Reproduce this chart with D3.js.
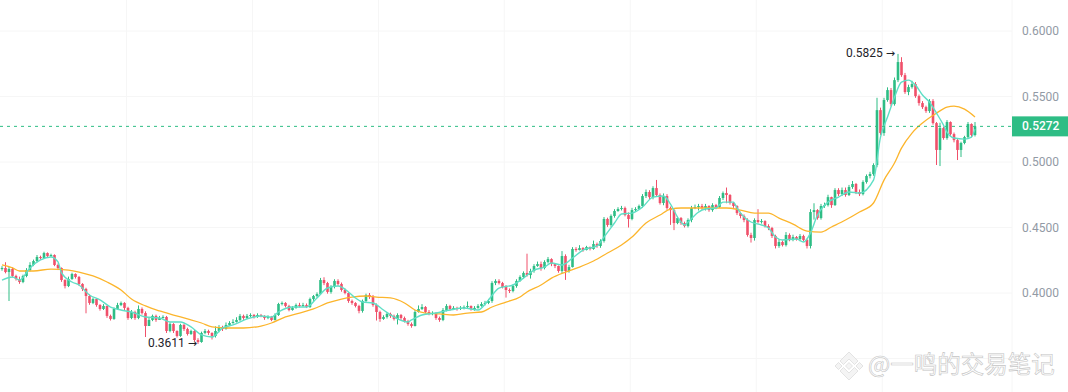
<!DOCTYPE html>
<html>
<head>
<meta charset="utf-8">
<script src="https://cdn.jsdelivr.net/npm/d3@7"></script>
<style>
    html, body { margin: 0; padding: 0; background: #fff; overflow: hidden; }
    svg { display: block; font-family: Roboto, Arial, sans-serif; }
</style>
</head>
<body>
<div id="chart"></div>
<script>
// daily candles, open of each one is the close before it
const firstOpen = .4183;
const closes = [
    .4191,.4160,.4183,.4130,.4107,.4084,.4130,.4175,.4214,.4244,
    .4275,.4267,.4305,.4282,.4290,.4214,.4191,.4099,.4053,.4107,
    .4145,.4122,.4069,.4031,.3977,.3924,.3954,.3908,.3878,.3901,
    .3825,.3802,.3878,.3908,.3924,.3886,.3809,.3855,.3809,.3878,
    .3847,.3748,.3794,.3825,.3794,.3809,.3817,.3710,.3763,.3710,
    .3672,.3756,.3725,.3687,.3710,.3641,.3626,.3695,.3710,.3695,
    .3672,.3710,.3740,.3725,.3756,.3771,.3779,.3794,.3825,.3809,
    .3825,.3832,.3817,.3832,.3825,.3809,.3817,.3794,.3832,.3916,
    .3924,.3901,.3870,.3886,.3908,.3901,.3908,.3893,.3954,.3977,
    .3992,.4099,.4076,.4008,.4046,.4092,.4069,.4023,.4000,.3939,
    .3924,.3901,.3863,.3939,.3985,.3969,.3908,.3855,.3802,.3817,
    .3840,.3825,.3802,.3832,.3809,.3786,.3763,.3748,.3855,.3878,
    .3893,.3855,.3840,.3847,.3809,.3794,.3870,.3901,.3878,.3886,
    .3878,.3886,.3893,.3901,.3878,.3886,.3901,.3916,.3924,.3939,
    .4076,.4092,.4076,.4046,.4023,.4015,.4053,.4092,.4122,.4153,
    .4137,.4168,.4206,.4221,.4191,.4237,.4259,.4221,.4206,.4168,
    .4282,.4168,.4198,.4336,.4328,.4343,.4328,.4351,.4336,.4374,
    .4359,.4397,.4565,.4519,.4588,.4626,.4641,.4649,.4595,.4565,
    .4633,.4641,.4664,.4740,.4771,.4732,.4801,.4748,.4687,.4740,
    .4649,.4633,.4534,.4572,.4534,.4511,.4557,.4649,.4656,.4664,
    .4649,.4664,.4633,.4671,.4656,.4725,.4763,.4748,.4687,.4664,
    .4610,.4588,.4557,.4443,.4420,.4557,.4542,.4549,.4511,.4496,
    .4435,.4359,.4389,.4366,.4443,.4405,.4427,.4412,.4435,.4405,
    .4359,.4618,.4633,.4572,.4664,.4671,.4732,.4671,.4786,.4755,
    .4786,.4748,.4809,.4832,.4771,.4755,.4847,.4893,.4908,.4977,
    .5396,.5221,.5473,.5549,.5442,.5625,.5763,.5663,.5534,.5572,
    .5595,.5503,.5450,.5419,.5389,.5465,.5297,.5092,.5259,.5183,
    .5305,.5213,.5167,.5092,.5145,.5190,.5290,.5206,.5272
];
const highs = [
    .4205,.4235,.4200,.4195,.4140,.4125,.4140,.4190,.4235,.4255,
    .4290,.4285,.4315,.4310,.4300,.4295,.4225,.4195,.4105,.4125,
    .4155,.4150,.4130,.4075,.4040,.3990,.3965,.3960,.3915,.3915,
    .3905,.3835,.3890,.3925,.3935,.3930,.3895,.3870,.3865,.3905,
    .3890,.3860,.3810,.3835,.3835,.3825,.3830,.3825,.3775,.3770,
    .3715,.3765,.3765,.3735,.3720,.3720,.3655,.3705,.3725,.3720,
    .3700,.3745,.3755,.3750,.3775,.3785,.3800,.3815,.3840,.3835,
    .3840,.3845,.3840,.3845,.3840,.3830,.3830,.3825,.3845,.3925,
    .3935,.3930,.3910,.3900,.3920,.3925,.3925,.3920,.3965,.3985,
    .4005,.4115,.4120,.4085,.4060,.4105,.4105,.4080,.4035,.4005,
    .3950,.3930,.3910,.3950,.3995,.4000,.3985,.3920,.3865,.3830,
    .3855,.3850,.3835,.3845,.3840,.3820,.3795,.3775,.3870,.3905,
    .3915,.3900,.3870,.3860,.3855,.3820,.3885,.3915,.3910,.3900,
    .3895,.3900,.3905,.3935,.3905,.3900,.3915,.3930,.3940,.3955,
    .4090,.4105,.4105,.4085,.4060,.4035,.4065,.4105,.4135,.4165,
    .4300,.4185,.4220,.4240,.4240,.4250,.4275,.4265,.4225,.4210,
    .4320,.4295,.4215,.4350,.4350,.4365,.4350,.4360,.4355,.4400,
    .4385,.4410,.4580,.4575,.4600,.4640,.4655,.4665,.4660,.4615,
    .4650,.4655,.4675,.4755,.4790,.4785,.4815,.4863,.4760,.4760,
    .4755,.4660,.4640,.4585,.4580,.4545,.4570,.4665,.4675,.4680,
    .4680,.4680,.4670,.4685,.4680,.4740,.4775,.4805,.4755,.4695,
    .4670,.4620,.4600,.4570,.4460,.4570,.4640,.4565,.4555,.4525,
    .4505,.4445,.4410,.4400,.4465,.4455,.4445,.4435,.4450,.4445,
    .4415,.4640,.4685,.4640,.4680,.4690,.4750,.4735,.4800,.4800,
    .4805,.4805,.4825,.4855,.4840,.4790,.4860,.4905,.4925,.4990,
    .5490,.5415,.5490,.5570,.5565,.5645,.5825,.5800,.5680,.5590,
    .5620,.5610,.5515,.5465,.5430,.5480,.5480,.5305,.5300,.5270,
    .5320,.5310,.5225,.5175,.5155,.5200,.5305,.5295,.5305
];
const lows = [
    .4170,.4150,.3939,.4120,.4095,.4070,.4075,.4120,.4165,.4205,
    .4235,.4255,.4260,.4270,.4275,.4205,.4175,.4085,.4035,.4045,
    .4100,.4110,.4055,.4015,.3845,.3910,.3915,.3895,.3865,.3870,
    .3810,.3790,.3795,.3870,.3900,.3870,.3795,.3800,.3795,.3800,
    .3835,.3664,.3780,.3785,.3780,.3795,.3805,.3695,.3700,.3695,
    .3660,.3665,.3710,.3675,.3680,.3630,.3611,.3620,.3685,.3680,
    .3645,.3660,.3700,.3710,.3720,.3750,.3765,.3775,.3785,.3795,
    .3800,.3815,.3805,.3810,.3815,.3795,.3800,.3785,.3790,.3825,
    .3905,.3890,.3860,.3865,.3880,.3890,.3895,.3885,.3885,.3940,
    .3965,.3985,.4060,.3995,.3995,.4035,.4055,.4010,.3990,.3925,
    .3910,.3890,.3845,.3850,.3925,.3955,.3895,.3790,.3780,.3795,
    .3805,.3810,.3790,.3760,.3795,.3775,.3750,.3735,.3745,.3850,
    .3870,.3845,.3830,.3830,.3795,.3780,.3785,.3860,.3865,.3870,
    .3865,.3870,.3875,.3880,.3865,.3865,.3880,.3895,.3905,.3915,
    .3925,.4060,.4065,.4035,.3965,.4000,.4005,.4040,.4085,.4110,
    .4125,.4110,.4155,.4200,.4170,.4180,.4225,.4205,.4190,.4155,
    .4150,.4100,.4155,.4195,.4315,.4325,.4315,.4325,.4325,.4330,
    .4345,.4345,.4385,.4505,.4505,.4575,.4620,.4630,.4585,.4500,
    .4555,.4625,.4640,.4650,.4725,.4715,.4715,.4735,.4675,.4670,
    .4635,.4520,.4480,.4525,.4520,.4500,.4500,.4540,.4640,.4630,
    .4635,.4630,.4620,.4620,.4640,.4650,.4710,.4685,.4675,.4650,
    .4595,.4570,.4540,.4430,.4385,.4400,.4530,.4530,.4500,.4480,
    .4420,.4340,.4345,.4355,.4355,.4395,.4395,.4400,.4395,.4395,
    .4340,.4340,.4560,.4560,.4560,.4650,.4660,.4650,.4665,.4740,
    .4740,.4735,.4740,.4795,.4755,.4740,.4745,.4835,.4875,.4895,
    .4960,.5205,.5200,.5460,.5425,.5430,.5610,.5650,.5520,.5510,
    .5560,.5490,.5430,.5405,.5375,.5375,.5285,.4977,.4969,.5170,
    .5170,.5200,.5150,.5015,.5038,.5135,.5180,.5190,.5195
];

const fastDays = [0,3,5,8,11,14,16,17,20,22,25,28,31,34,37,41,45,48,51,54,57,60,63,66,70,74,
    77,79,83,87,90,93,96,99,101,103,106,109,112,116,117,120,124,128,132,136,
    139,142,146,149,152,155,157,160,163,166,170,172,175,177,180,183,186,189,
    191,193,195,196,199,201,204,206,209,210,212,214,217,219,221,223,227,229,231,233,236,239,242,245,249,
    251,253,255,257,259,261,263,265,267,269,270,272,275,277,278];
const fastValues = [.4099,.4122,.4099,.4191,.4252,.4275,.4237,.4153,.4084,.4061,.3985,.3947,.3893,.3870,.3855,.3817,.3809,.3779,.3779,.3741,.3680,.3664,.3733,.3756,.3802,.3825,
    .3817,.3855,.3893,.3893,.3962,.4038,.4053,.4008,.3962,.3931,.3924,.3870,.3817,.3779,.3794,.3832,.3847,.3870,.3885,.3870,
    .3947,.4038,.4061,.4114,.4175,.4198,.4229,.4214,.4267,.4328,.4359,.4427,.4534,.4603,.4610,.4656,.4732,.4740,
    .4679,.4580,.4519,.4542,.4618,.4641,.4649,.4694,.4694,.4649,.4580,.4542,.4519,.4496,.4427,.4405,.4412,.4389,.4458,.4595,.4694,.4732,.4771,.4763,.4862,
    .5190,.5343,.5495,.5610,.5625,.5587,.5511,.5457,.5373,.5282,.5228,.5183,.5175,.5190,.5251];
const slowDays = [0,3,5,9,14,19,22,26,30,34,37,41,45,49,53,57,60,64,69,74,77,81,85,89,93,97,100,104,107,111,115,118,121,125,129,133,137,
    140,144,148,150,154,157,161,165,169,173,177,180,184,188,191,194,199,207,211,215,219,222,226,230,234,237,241,245,249,252,255,257,260,263,267,270,272,275,278];
const slowValues = [.4214,.4191,.4168,.4168,.4183,.4175,.4160,.4130,.4084,.4023,.3954,.3901,.3863,.3832,.3802,.3771,.3741,.3733,.3733,.3748,.3771,.3817,.3847,.3878,.3924,.3954,.3969,.3977,.3969,.3962,.3924,.3870,.3847,.3840,.3832,.3847,.3855,
    .3893,.3931,.3969,.4008,.4061,.4114,.4160,.4198,.4244,.4305,.4366,.4427,.4534,.4595,.4641,.4649,.4649,.4649,.4633,.4610,.4610,.4572,.4526,.4473,.4465,.4504,.4557,.4618,.4687,.4862,.4992,.5106,.5221,.5298,.5373,.5419,.5427,.5404,.5344];

const priceTicks = [.35,.40,.45,.50,.55,.60];
const gridDays = [35.6,71.6,107.6,143.5,179.5,215.5,251.5];
const lastPrice = .5272;

const width = 1068, height = 392, axisLeft = 1012;

const svg = d3.select("#chart").append("svg")
    .attr("width", width)
    .attr("height", height);

// init scales
const x = d3.scaleLinear().domain([0, 278]).range([2, 975]);
const y = d3.scaleLinear().domain([.35, .60]).range([358.5, 31]);

// grid
svg.append("g").selectAll("line")
    .data(priceTicks)
    .enter().append("line")
    .attr("x1", 0).attr("x2", axisLeft)
    .attr("y1", d => y(d)).attr("y2", d => y(d))
    .attr("stroke", "#f6f6f6");
svg.append("g").selectAll("line")
    .data(gridDays)
    .enter().append("line")
    .attr("x1", d => x(d)).attr("x2", d => x(d))
    .attr("y1", 0).attr("y2", height)
    .attr("stroke", "#f6f6f6");
svg.append("line")
    .attr("x1", axisLeft).attr("x2", axisLeft)
    .attr("y1", 0).attr("y2", height)
    .attr("stroke", "#f6f6f6");

// y axis
const yAxis = svg.append("g")
    .attr("transform", "translate(" + 1022 + ",0)")
    .call(d3.axisRight(y).tickValues(priceTicks.slice(1)).tickFormat(d3.format(".4f")).tickSize(0).tickPadding(0));
yAxis.select(".domain").remove();
yAxis.selectAll("text")
    .attr("fill", "#929aa5")
    .attr("font-size", 12)
    .attr("font-family", "Roboto, Arial, sans-serif");

// candles
const candleData = closes.map((c, i) => ({
    i: i,
    open: i ? closes[i - 1] : firstOpen,
    close: c,
    high: highs[i],
    low: lows[i]
}));
const colour = d => d.close >= d.open ? "#2ebd85" : "#f0506a";

const candle = svg.append("g").selectAll("g")
    .data(candleData)
    .enter().append("g");
candle.append("line")
    .attr("x1", d => x(d.i)).attr("x2", d => x(d.i))
    .attr("y1", d => y(d.high)).attr("y2", d => y(d.low))
    .attr("stroke", colour);
candle.append("rect")
    .attr("x", d => x(d.i) - 1.3)
    .attr("width", 2.6)
    .attr("y", d => y(Math.max(d.open, d.close)))
    .attr("height", d => Math.max(1, Math.abs(y(d.open) - y(d.close))))
    .attr("fill", colour);

// moving averages
const line = d3.line()
    .curve(d3.curveMonotoneX)
    .x(d => x(d[0]))
    .y(d => y(d[1]));
svg.append("path")
    .datum(d3.zip(slowDays, slowValues))
    .attr("fill", "none")
    .attr("stroke", "#fcb52c")
    .attr("stroke-width", 1.3)
    .attr("d", line);
svg.append("path")
    .datum(d3.zip(fastDays, fastValues))
    .attr("fill", "none")
    .attr("stroke", "#5fdfc6")
    .attr("stroke-width", 1.4)
    .attr("d", line);

// high and low notes, the arrow comes from DejaVu
const fmt = d3.format(".4f");
const note = (px, py, value) => {
    const t = svg.append("text")
        .attr("x", px)
        .attr("y", py)
        .attr("text-anchor", "end")
        .attr("font-size", 12)
        .attr("fill", "#1e2329");
    t.append("tspan").text(fmt(value) + " ");
    t.append("tspan").attr("font-family", "'DejaVu Sans'").attr("font-size", 11).text("→");
};
const highIndex = d3.maxIndex(highs), lowIndex = d3.minIndex(lows);
note(x(highIndex) - 3, y(highs[highIndex]) + 3, highs[highIndex]);
note(x(lowIndex) - 1, y(lows[lowIndex]) + 3, lows[lowIndex]);

// last price line and tag
svg.append("line")
    .attr("x1", 0).attr("x2", axisLeft)
    .attr("y1", y(lastPrice)).attr("y2", y(lastPrice))
    .attr("stroke", "#2ebd85")
    .attr("stroke-dasharray", "3 4");
svg.append("rect")
    .attr("x", axisLeft)
    .attr("y", y(lastPrice) - 10)
    .attr("width", width - axisLeft)
    .attr("height", 20)
    .attr("fill", "#2ebd85");
svg.append("text")
    .attr("x", 1022)
    .attr("y", y(lastPrice) + 4)
    .attr("font-size", 12)
    .attr("font-weight", 500)
    .attr("fill", "#fff")
    .text(fmt(lastPrice));

// watermark, pale outline around white
const mark = svg.append("g");
mark.append("g")
    .attr("transform", "translate(849,366)")
    .attr("fill", "#f4f4f4")
    .attr("stroke", "#d4d4d4")
    .attr("stroke-width", 0.6)
    .selectAll("path")
    .data([
        "M0,-14 L9,-5 L5.5,-1.5 L0,-7 L-5.5,-1.5 L-9,-5 Z",
        "M0,14 L9,5 L5.5,1.5 L0,7 L-5.5,1.5 L-9,5 Z",
        "M-14,0 L-10.5,-3.5 L-7,0 L-10.5,3.5 Z",
        "M14,0 L10.5,-3.5 L7,0 L10.5,3.5 Z",
        "M0,-3.5 L3.5,0 L0,3.5 L-3.5,0 Z"
    ])
    .enter().append("path")
    .attr("d", d => d);
mark.append("text")
    .attr("x", 868)
    .attr("y", 373)
    .attr("font-family", "'Noto Sans CJK SC', sans-serif")
    .attr("font-size", 23.5)
    .attr("fill", "#fff")
    .attr("stroke", "#c4c4c4")
    .attr("stroke-width", 0.6)
    .text("@一鸣的交易笔记");
</script>
</body>
</html>
